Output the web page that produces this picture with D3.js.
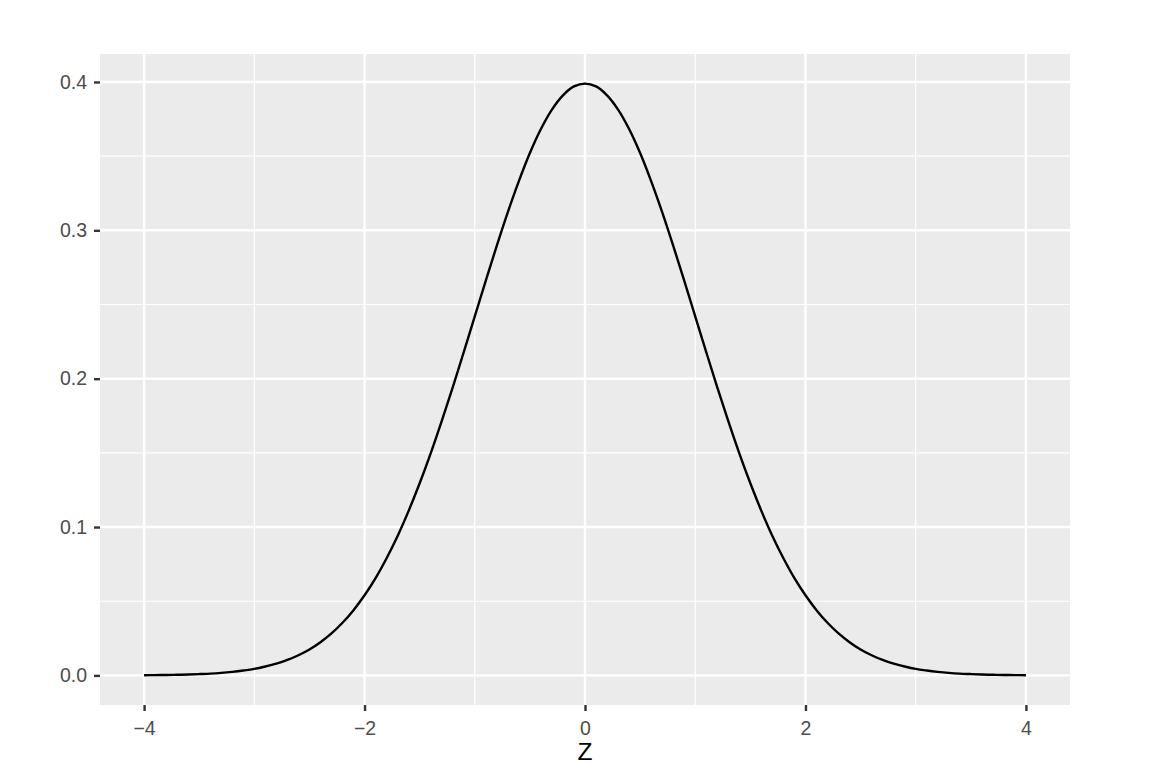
<!DOCTYPE html>
<html>
<head>
<meta charset="utf-8">
<script src="https://cdn.jsdelivr.net/npm/d3@7"></script>
<style>
html,body{margin:0;padding:0;background:#fff;}
svg{display:block;}
</style>
</head>
<body>
<svg id="chart" width="1158" height="768"></svg>
<script>
// Values (density curve)
const zValues = [-4.0,-3.9,-3.8,-3.7,-3.6,-3.5,-3.4,-3.3,-3.2,-3.1,-3.0,-2.9,-2.8,-2.7,-2.6,-2.5,-2.4,-2.3,-2.2,-2.1,
                 -2.0,-1.9,-1.8,-1.7,-1.6,-1.5,-1.4,-1.3,-1.2,-1.1,-1.0,-0.9,-0.8,-0.7,-0.6,-0.5,-0.4,-0.3,-0.2,-0.1,
                 0.0,0.1,0.2,0.3,0.4,0.5,0.6,0.7,0.8,0.9,1.0,1.1,1.2,1.3,1.4,1.5,1.6,1.7,1.8,1.9,
                 2.0,2.1,2.2,2.3,2.4,2.5,2.6,2.7,2.8,2.9,3.0,3.1,3.2,3.3,3.4,3.5,3.6,3.7,3.8,3.9,4.0];
const densityValues = [0.0001,0.0002,0.0003,0.0004,0.0006,0.0009,0.0012,0.0017,0.0024,0.0033,
                 0.0044,0.0060,0.0079,0.0104,0.0136,0.0175,0.0224,0.0283,0.0355,0.0440,
                 0.0540,0.0656,0.0790,0.0940,0.1109,0.1295,0.1497,0.1714,0.1942,0.2179,
                 0.2420,0.2661,0.2897,0.3123,0.3332,0.3521,0.3683,0.3814,0.3910,0.3970,
                 0.3989,
                 0.3970,0.3910,0.3814,0.3683,0.3521,0.3332,0.3123,0.2897,0.2661,0.2420,
                 0.2179,0.1942,0.1714,0.1497,0.1295,0.1109,0.0940,0.0790,0.0656,0.0540,
                 0.0440,0.0355,0.0283,0.0224,0.0175,0.0136,0.0104,0.0079,0.0060,0.0044,
                 0.0033,0.0024,0.0017,0.0012,0.0009,0.0006,0.0004,0.0003,0.0002,0.0001];
const xTicks = [-4,-2,0,2,4];
const xMinorTicks = [-3,-1,1,3];
const yTicks = [0.0,0.1,0.2,0.3,0.4];
const yMinorTicks = [0.05,0.15,0.25,0.35];
const xTitle = "Z";

const svg = d3.select("#chart");
const panel = {left:100, right:1070, top:54, bottom:705};
const FONT = "Liberation Sans, Arial, Helvetica, sans-serif";

const xMin = d3.min(zValues), xMax = d3.max(zValues);
const xPad = (xMax - xMin) * 0.05;
const yMax = d3.max(densityValues);
const yPad = yMax * 0.05;

const x = d3.scaleLinear().domain([xMin - xPad, xMax + xPad]).range([panel.left, panel.right]);
const y = d3.scaleLinear().domain([0 - yPad, yMax + yPad]).range([panel.bottom, panel.top]);

svg.append("rect")
  .attr("x", panel.left).attr("y", panel.top)
  .attr("width", panel.right - panel.left).attr("height", panel.bottom - panel.top)
  .attr("fill", "#EBEBEB");

const grid = svg.append("g");
grid.selectAll(".ymin").data(yMinorTicks).enter().append("line")
  .attr("x1", panel.left).attr("x2", panel.right)
  .attr("y1", d => y(d)).attr("y2", d => y(d))
  .attr("stroke", "#fff").attr("stroke-width", 1.2);
grid.selectAll(".xmin").data(xMinorTicks).enter().append("line")
  .attr("y1", panel.top).attr("y2", panel.bottom)
  .attr("x1", d => x(d)).attr("x2", d => x(d))
  .attr("stroke", "#fff").attr("stroke-width", 1.2);
grid.selectAll(".ymaj").data(yTicks).enter().append("line")
  .attr("x1", panel.left).attr("x2", panel.right)
  .attr("y1", d => y(d)).attr("y2", d => y(d))
  .attr("stroke", "#fff").attr("stroke-width", 2.4);
grid.selectAll(".xmaj").data(xTicks).enter().append("line")
  .attr("y1", panel.top).attr("y2", panel.bottom)
  .attr("x1", d => x(d)).attr("x2", d => x(d))
  .attr("stroke", "#fff").attr("stroke-width", 2.4);

const pts = zValues.map((z, i) => [z, densityValues[i]]);
svg.append("path")
  .datum(pts)
  .attr("fill", "none")
  .attr("stroke", "#000")
  .attr("stroke-width", 2.4)
  .attr("stroke-linejoin", "round")
  .attr("d", d3.line().x(d => x(d[0])).y(d => y(d[1])).curve(d3.curveCatmullRom.alpha(0.5)));

const fmtX = v => (v < 0 ? "\u2212" + Math.abs(v) : String(v));
const xAxis = d3.axisBottom(x).tickValues(xTicks).tickSize(6).tickPadding(10).tickFormat(fmtX);
const gx = svg.append("g").attr("transform", `translate(0,${panel.bottom})`).call(xAxis);
const yAxis = d3.axisLeft(y).tickValues(yTicks).tickSize(6).tickPadding(7).tickFormat(d3.format(".1f"));
const gy = svg.append("g").attr("transform", `translate(${panel.left},0)`).call(yAxis);

[gx, gy].forEach(g => {
  g.select(".domain").remove();
  g.selectAll(".tick line").attr("stroke", "#333333").attr("stroke-width", 2.4);
  g.selectAll(".tick text").attr("fill", "#4D4D4D")
    .style("font-family", FONT).style("font-size", "19.5px");
});

svg.append("text")
  .attr("x", (panel.left + panel.right) / 2)
  .attr("y", 760)
  .attr("text-anchor", "middle")
  .attr("fill", "#000")
  .style("font-family", FONT)
  .style("font-size", "24.5px")
  .text(xTitle);
</script>
</body>
</html>
